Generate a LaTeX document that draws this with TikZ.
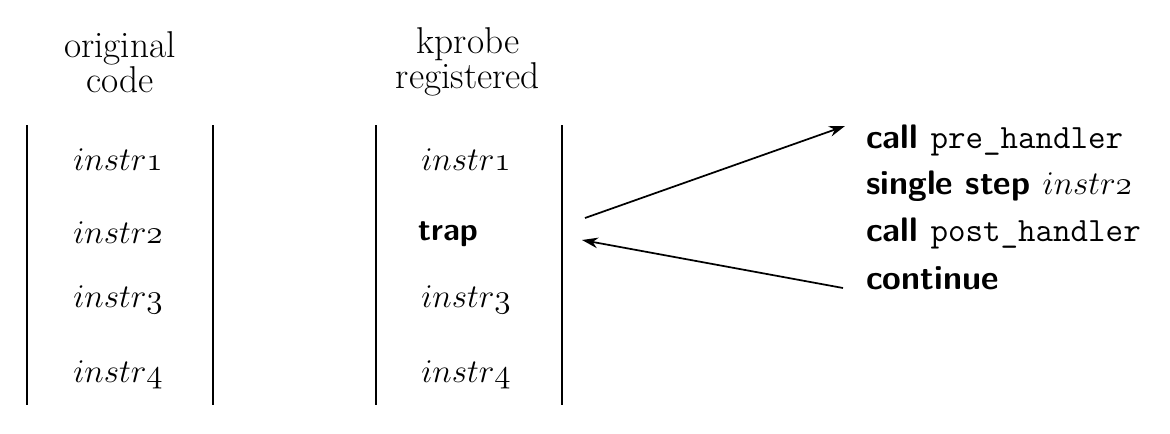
\documentclass[tikz,border=0pt]{standalone}
\usetikzlibrary{arrows.meta}
\begin{document}
\begin{tikzpicture}[x=0.75pt,y=-0.75pt,
  lbl/.style={font=\fontsize{28}{26}\selectfont, align=center},
  ins/.style={font=\fontsize{28}{32}\selectfont},
  rt/.style={font=\fontsize{25.5}{30}\selectfont, anchor=west, inner sep=0pt},
  bar/.style={line width=1.6pt},
  arr/.style={line width=1.3pt, -{Stealth[length=12pt,width=8pt]}}]
\useasboundingbox (0,0) rectangle (1170,433);
\node[lbl] (h1) at (120,62) {original\\code};
\node[lbl] (h2) at (468,62) {kprobe\\registered};
\foreach \x/\n in {27/a,213/b,376/c,562/d}
  \draw[bar] (\x,125) coordinate (\n t) -- (\x,405) coordinate (\n b);
\node[ins] (o1) at (118,160) {$instr\oldstylenums{1}$};
\node[ins] (o2) at (118,233) {$instr\oldstylenums{2}$};
\node[ins] (o3) at (118,300) {$instr\oldstylenums{3}$};
\node[ins] (o4) at (118,375) {$instr\oldstylenums{4}$};
\node[ins] (k1) at (466,160) {$instr\oldstylenums{1}$};
\node[font=\fontsize{24}{28}\selectfont] (k2) at (448,234) {\sffamily\bfseries trap};
\node[ins] (k3) at (466,300) {$instr\oldstylenums{3}$};
\node[ins] (k4) at (466,375) {$instr\oldstylenums{4}$};
\node[rt] (r1) at (866,140) {\sffamily\bfseries call \mdseries\ttfamily pre\_handler};
\node[rt] (r2) at (866,186) {\sffamily\bfseries single step \mdseries\rmfamily$instr\oldstylenums{2}$};
\node[rt] (r3) at (866,233) {\sffamily\bfseries call \mdseries\ttfamily post\_handler};
\node[rt] (r4) at (866,278) {\sffamily\bfseries continue};
\coordinate (s1) at (585,218);
\coordinate (e1) at (845,126);
\coordinate (s2) at (843,288);
\coordinate (e2) at (582,240);
\draw[arr] (s1) -- (e1);
\draw[arr] (s2) -- (e2);
\end{tikzpicture}
\end{document}
